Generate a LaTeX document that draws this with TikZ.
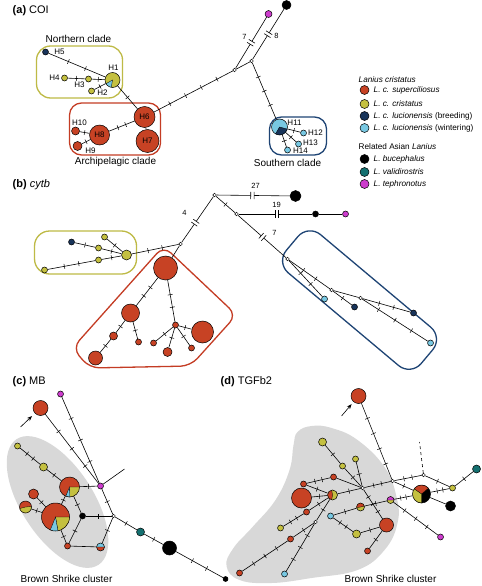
\documentclass[tikz,border=0pt]{standalone}
\usepackage{fontspec}
\setmainfont{Liberation Sans}
\usetikzlibrary{arrows.meta,decorations.markings}

\definecolor{sup}{RGB}{199,66,36}
\definecolor{cri}{RGB}{196,192,64}
\definecolor{brd}{RGB}{24,52,90}
\definecolor{win}{RGB}{120,200,226}
\definecolor{val}{RGB}{20,112,112}
\definecolor{tep}{RGB}{205,60,205}
\definecolor{boxy}{RGB}{190,186,70}
\definecolor{boxr}{RGB}{196,60,36}
\definecolor{boxb}{RGB}{30,68,116}
\definecolor{bgrey}{RGB}{216,216,216}

\newcommand{\tk}{\draw[line width=0.5pt] (0pt,-2.5pt) -- (0pt,2.5pt);}
\newcommand{\slice}[3]{\filldraw[fill=#3, draw=black, line width=0.3pt] (path picture bounding box.center) -- ++(#1:20) arc[start angle=#1, end angle=#2, radius=20] -- cycle;}

\tikzset{
  hap/.style={circle, draw=black, line width=0.5pt, inner sep=0pt, minimum size=#1},
  jn/.style={circle, draw=black, fill=white, line width=0.4pt, inner sep=0pt, minimum size=3.6},
  hl/.style={font=\fontsize{8}{9}\selectfont, inner sep=0.5pt},
  cl/.style={font=\fontsize{10}{12}\selectfont, inner sep=0pt},
  nl/.style={font=\fontsize{7.5}{9}\selectfont, inner sep=0pt},
  lg/.style={font=\fontsize{8.2}{10}\selectfont, anchor=west, inner sep=0pt},
  pl/.style={font=\fontsize{11}{13}\selectfont, anchor=west, inner sep=0pt},
  ln/.style={line width=0.6pt},
  t1/.style={postaction={decorate, decoration={markings, mark=at position 0.5 with {\tk}}}},
  t2/.style={postaction={decorate, decoration={markings, mark=at position 0.35 with {\tk}, mark=at position 0.65 with {\tk}}}},
  t3/.style={postaction={decorate, decoration={markings, mark=at position 0.25 with {\tk}, mark=at position 0.5 with {\tk}, mark=at position 0.75 with {\tk}}}},
  t4/.style={postaction={decorate, decoration={markings, mark=at position 0.2 with {\tk}, mark=at position 0.4 with {\tk}, mark=at position 0.6 with {\tk}, mark=at position 0.8 with {\tk}}}},
  brk/.style={postaction={decorate, decoration={markings, mark=at position #1 with {\fill[white] (-1.7pt,-3.6pt) rectangle (1.7pt,3.6pt); \draw[line width=0.6pt] (-1.7pt,-3.6pt) -- (-1.7pt,3.6pt) (1.7pt,-3.6pt) -- (1.7pt,3.6pt);}}}},
}

\begin{document}
\begin{tikzpicture}[x=1pt, y=-1pt]
    \fill[white] (0,0) rectangle (474,586);

    % (a) COI
    \node (pa) [pl] at (5,11) {\textbf{(a)} COI};
    \draw[boxy, line width=1.3pt, rounded corners=14] (29,46) rectangle (115,98);
    \draw[boxr, line width=1.3pt, rounded corners=12] (62,103) rectangle (153,155);
    \draw[boxb, line width=1.3pt, rounded corners=12] (262,117) rectangle (319,155);

    \node (h5) [hap=6, fill=brd] at (38,52) {};
    \node (h1) [hap=15, fill=cri, path picture={\slice{100}{150}{win}}] at (105,80) {};
    \node (h4) [hap=6, fill=cri] at (57,78) {};
    \node (h3) [hap=6, fill=cri] at (81,79) {};
    \node (h2) [hap=6, fill=cri] at (84,91) {};
    \node (h6) [hap=21, fill=sup, hl] at (137,117) {H6};
    \node (h7) [hap=23, fill=sup, hl] at (140,141) {H7};
    \node (h8) [hap=20, fill=sup, hl] at (92,135) {H8};
    \node (h10) [hap=8, fill=sup] at (68,131) {};
    \node (h9) [hap=9, fill=sup] at (70,146) {};
    \node (a1) [jn] at (227,70) {};
    \node (a2) [jn] at (244,61) {};
    \node (am) [hap=7, fill=tep] at (261,14) {};
    \node (ab) [hap=9, fill=black] at (279,5) {};
    \node (h11) [hap=16, fill=win, path picture={\slice{15}{120}{brd}}] at (272,127) {};
    \node (h12) [hap=6, fill=win] at (296,133) {};
    \node (h13) [hap=6, fill=win] at (291,144) {};
    \node (h14) [hap=6, fill=win] at (280,150) {};

    \draw[ln, t2] (h5) -- (h1);
    \draw[ln, t1] (h4) -- (h3);
    \draw[ln, t1] (h3) -- (h1);
    \draw[ln, t1] (h2) -- (h1);
    \draw[ln, t1] (h1) -- (h6);
    \draw[ln] (h6) -- (h7);
    \draw[ln, t2] (h8) -- (h6);
    \draw[ln, t1] (h10) -- (h8);
    \draw[ln, t1] (h9) -- (h8);
    \draw[ln, t4] (h6) -- (a1);
    \draw[ln] (a1) -- (a2);
    \draw[ln, brk=0.5] (a1) -- (am);
    \draw[ln, brk=0.5] (a2) -- (ab);
    \draw[ln, t3] (a2) -- (h11);
    \draw[ln, t1] (h11) -- (h12);
    \draw[ln, t1] (h11) -- (h13);
    \draw[ln, t1] (h11) -- (h14);

    \node (l7) [nl] at (237,37) {7};
    \node (l8) [nl] at (269,36) {8};
    \node (lh5) [hl] at (52,52) {H5};
    \node (lh1) [hl] at (106,68) {H1};
    \node (lh4) [hl] at (47,78) {H4};
    \node (lh3) [hl] at (72,85) {H3};
    \node (lh2) [hl] at (95,93) {H2};
    \node (lh10) [hl] at (72,123) {H10};
    \node (lh9) [hl] at (83,151) {H9};
    \node (lh11) [hl] at (287,123) {H11};
    \node (lh12) [hl] at (308,133) {H12};
    \node (lh13) [hl] at (303,143) {H13};
    \node (lh14) [hl] at (293,151) {H14};
    \node (lnc) [cl] at (71,39) {Northern clade};
    \node (lac) [cl] at (108,162) {Archipelagic clade};
    \node (lsc) [cl] at (280,163) {Southern clade};

    % legend
    \node (lgc) [lg] at (351,80) {\textit{Lanius cristatus}};
    \node (k1) [hap=9, fill=sup] at (357,90) {};
    \node (k2) [hap=9, fill=cri] at (357,104) {};
    \node (k3) [hap=9, fill=brd] at (357,116) {};
    \node (k4) [hap=9, fill=win] at (357,128) {};
    \node (lk1) [lg] at (366,90) {\textit{L. c. superciliosus}};
    \node (lk2) [lg] at (366,104) {\textit{L. c. cristatus}};
    \node (lk3) [lg] at (366,116) {\textit{L. c. lucionensis} (breeding)};
    \node (lk4) [lg] at (366,128) {\textit{L. c. lucionensis} (wintering)};
    \node (lgr) [lg] at (351,147) {Related Asian \textit{Lanius}};
    \node (k5) [hap=9, fill=black] at (357,159) {};
    \node (k6) [hap=9, fill=val] at (357,172) {};
    \node (k7) [hap=9, fill=tep] at (357,184) {};
    \node (lk5) [lg] at (366,159) {\textit{L. bucephalus}};
    \node (lk6) [lg] at (366,172) {\textit{L. validirostris}};
    \node (lk7) [lg] at (366,184) {\textit{L. tephronotus}};

    % (b) cytb
    \node (pb) [pl] at (5,185) {\textbf{(b)} \textit{cytb}};
    \draw[boxy, line width=1.3pt, rounded corners=15] (27,231) rectangle (129,274);
    \draw[boxr, line width=1.3pt, rounded corners=10] (156,246) -- (229,315) -- (183,366) -- (82,368) -- (65,348) -- cycle;
    \draw[boxb, line width=1.3pt, rounded corners=16] (300.7,224.3) -- (435.5,337.5) -- (403.3,375.8) -- (268.5,262.6) -- cycle;

    \node (by0) [hap=10, fill=cri] at (119,255) {};
    \node (bd0) [hap=6, fill=brd] at (64,242) {};
    \node (by1) [hap=6, fill=cri] at (91,248) {};
    \node (by2) [hap=6, fill=cri] at (97,237) {};
    \node (by3) [hap=6, fill=cri] at (91,260) {};
    \node (by4) [hap=6, fill=cri] at (37,270) {};
    \node (bj0) [jn] at (173,244) {};
    \node (bj1) [jn] at (207,195) {};
    \node (bj2) [jn] at (229,214) {};
    \node (bj3) [jn] at (280,259) {};
    \node (bk1) [hap=11, fill=black] at (288,196) {};
    \node (bk2) [hap=6, fill=black] at (308,214) {};
    \node (bm) [hap=6, fill=tep] at (338,214) {};
    \node (r1) [hap=24, fill=sup] at (158,268) {};
    \node (r2) [hap=18, fill=sup] at (123,313) {};
    \node (r3) [hap=8, fill=sup] at (106,336) {};
    \node (r4) [hap=14, fill=sup] at (88,358) {};
    \node (r5) [hap=6, fill=sup] at (131,342) {};
    \node (r6) [hap=6, fill=sup] at (168,325) {};
    \node (r7) [hap=22, fill=sup] at (195,332) {};
    \node (r8) [hap=6, fill=sup] at (146,343) {};
    \node (r9) [hap=9, fill=sup] at (160,352) {};
    \node (r10) [hap=6, fill=sup] at (184,348) {};
    \node (bc1) [hap=6, fill=win] at (317,299) {};
    \node (bj4) [jn] at (324,290) {};
    \node (bd1) [hap=6, fill=brd] at (347,307) {};
    \node (bj5) [jn] at (353,298) {};
    \node (bd2) [hap=6, fill=brd] at (406,313) {};
    \node (bc2) [hap=6, fill=win] at (423,343) {};

    \draw[ln, t1] (bd0) -- (by1);
    \draw[ln, t1] (by1) -- (by0);
    \draw[ln, t1] (by2) -- (by0);
    \draw[ln, t2] (by4) -- (by3);
    \draw[ln, t1] (by3) -- (by0);
    \draw[ln, t2] (by0) -- (bj0);
    \draw[ln, brk=0.43] (bj0) -- (bj1);
    \draw[ln] (bj0) -- (r1);
    \draw[ln, t2] (r1) -- (r2);
    \draw[ln, t1] (r2) -- (r3);
    \draw[ln, t1] (r3) -- (r4);
    \draw[ln, t1] (r2) -- (r5);
    \draw[ln, t2] (r1) -- (r6);
    \draw[ln, t1] (r6) -- (r7);
    \draw[ln, t1] (r6) -- (r8);
    \draw[ln, t1] (r6) -- (r9);
    \draw[ln, t1] (r6) -- (r10);
    \draw[ln, brk=0.49] (bj1) -- (bk1);
    \draw[ln, t1] (bj1) -- (bj2);
    \draw[ln, brk=0.52] (bj2) -- (bk2);
    \draw[ln] (bk2) -- (bm);
    \draw[ln, brk=0.51] (bj2) -- (bj3);
    \draw[ln, t2] (bj3) -- (bc1);
    \draw[ln, t2] (bj3) -- (bj4);
    \draw[ln, t1] (bj4) -- (bd1);
    \draw[ln] (bj4) -- (bj5);
    \draw[ln, t2] (bj5) -- (bd2);
    \draw[ln, t3] (bj5) -- (bc2);

    \node (l4) [nl] at (177,213) {4};
    \node (l27) [nl] at (248,186) {27};
    \node (l19) [nl] at (269,205) {19};
    \node (lb7) [nl] at (267,233) {7};

    % (c) MB
    \node (pc) [pl] at (5,382) {\textbf{(c)} MB};
    \fill[bgrey, rotate around={-57:(50,502)}] (50,502) ellipse [x radius=75, y radius=36];

    \node (cr0) [hap=15, fill=sup] at (33,408) {};
    \node (cm0) [hap=6, fill=tep] at (53,394) {};
    \node (cm1) [hap=6, fill=tep] at (93,486) {};
    \coordinate (cst) at (117,469);
    \node (cy1) [hap=6, fill=cri] at (10,446) {};
    \node (cy2) [hap=8, fill=cri] at (36,467) {};
    \node (cp1) [hap=20, fill=sup, path picture={\slice{0}{88}{cri}\slice{88}{112}{win}}] at (62,487) {};
    \node (cr1) [hap=10, fill=sup] at (26,494) {};
    \node (cp2) [hap=12, fill=sup, path picture={\slice{-5}{165}{cri}}] at (18,507) {};
    \node (cp3) [hap=28, fill=sup, path picture={\slice{0}{80}{cri}\slice{80}{112}{win}}] at (48,517) {};
    \node (ck1) [hap=6, fill=black] at (75,516) {};
    \node (cj1) [jn] at (106,516) {};
    \node (cr2) [hap=6, fill=sup] at (60,546) {};
    \node (cp4) [hap=8, fill=win, path picture={\slice{0}{180}{sup}}] at (93,547) {};
    \node (ct) [hap=8, fill=val] at (133,532) {};
    \node (ck2) [hap=14, fill=black] at (162,548) {};
    \node (ck3) [hap=5, fill=black] at (218,579) {};
    \coordinate (ca) at (13,427);

    \draw[ln, t3] (cr0) -- (cm1);
    \draw[ln, t3] (cm0) -- (cm1);
    \draw[ln] (cm1) -- (cst);
    \draw[ln, t2] (cy1) -- (cy2);
    \draw[ln, t1] (cy2) -- (cp1);
    \draw[ln, t1] (cp1) -- (cm1);
    \draw[ln, t1] (cp1) -- (cp3);
    \draw[ln, t1] (cp1) -- (ck1);
    \draw[ln, t1] (cr1) -- (cp3);
    \draw[ln, t1] (cp2) -- (cp3);
    \draw[ln, t1] (cp3) -- (cr2);
    \draw[ln, t1] (ck1) -- (cj1);
    \draw[ln, t1] (ck1) -- (cr2);
    \draw[ln] (cr2) -- (cp4);
    \draw[ln, t1] (cp4) -- (cj1);
    \draw[ln, t1] (cj1) -- (cm1);
    \draw[ln, t1] (cj1) -- (ct);
    \draw[ln, t1] (ct) -- (ck2);
    \draw[ln, t2] (ck2) -- (ck3);
    \draw[ln, -{Stealth[length=5pt, width=4pt]}, shorten >=4pt] (ca) -- (cr0);

    \node (lbc) [cl, anchor=base] at (59,582) {Brown Shrike cluster};

    % (d) TGFb2
    \node (pd) [pl] at (213,382) {\textbf{(d)} TGFb2};
    \fill[bgrey] plot[smooth cycle, tension=0.7] coordinates {(290,432) (304,426) (324,428) (350,440) (377,467) (389,497) (390,523) (377,550) (350,570) (304,578) (264,583) (232,580) (219,566) (226,548) (245,527) (268,500) (282,470) (286,445)};

    \node (d0) [hap=15, fill=sup] at (351,396) {};
    \node (dy1) [hap=8, fill=cri] at (315,442) {};
    \node (dy2) [hap=6, fill=cri] at (335,466) {};
    \node (dy3) [hap=6, fill=cri] at (348,459) {};
    \node (dr1) [hap=6, fill=sup] at (296,484) {};
    \node (dr2) [hap=6, fill=sup] at (326,477) {};
    \node (dj1) [jn] at (355,488) {};
    \node (dr3) [hap=20, fill=sup] at (294,498) {};
    \node (dp1) [hap=10, fill=cri, path picture={\slice{100}{260}{sup}}] at (325,495) {};
    \node (dr4) [hap=6, fill=sup] at (299,512) {};
    \node (dc1) [hap=6, fill=win] at (323,516) {};
    \node (dp2) [hap=8, fill=cri, path picture={\slice{170}{350}{sup}}] at (353,507) {};
    \node (dy4) [hap=6, fill=cri] at (273,528) {};
    \node (dj2) [jn] at (308,522) {};
    \node (dr5) [hap=6, fill=sup] at (283,539) {};
    \node (dy5) [hap=8, fill=cri] at (349,534) {};
    \node (dr6) [hap=14, fill=sup] at (379,525) {};
    \node (dr7) [hap=6, fill=sup] at (360,551) {};
    \node (dc2) [hap=6, fill=win] at (277,574) {};
    \node (dr8) [hap=6, fill=sup] at (232,573) {};
    \node (dp3) [hap=7, fill=cri, path picture={\slice{180}{360}{tep}}] at (383,500) {};
    \node (dj3) [jn] at (385,481) {};
    \node (dj4) [jn] at (416,475) {};
    \coordinate (dds) at (412,442);
    \node (dp4) [hap=18, fill=black, path picture={\slice{215}{320}{sup}\slice{90}{215}{cri}}] at (414,494) {};
    \node (dk1) [hap=10, fill=black] at (443,506) {};
    \node (dy6) [hap=6, fill=cri] at (445,488) {};
    \node (dt) [hap=8, fill=val] at (469,469) {};
    \node (dm) [hap=6, fill=tep] at (433,537) {};
    \coordinate (da) at (334,416);

    \draw[ln, t4] (d0) -- (dj3);
    \draw[ln, t2] (dj3) -- (dj4);
    \draw[ln, dashed] (dj4) -- (dds);
    \draw[ln, t1] (dj4) -- (dy6);
    \draw[ln, t2] (dp4) -- (dy6);
    \draw[ln, t1] (dy6) -- (dt);
    \draw[ln] (dp4) -- (dk1);
    \draw[ln, t1] (dj3) -- (dp4);
    \draw[ln, t2] (dp3) -- (dp4);
    \draw[ln, t3] (dp3) -- (dm);
    \draw[ln, t1] (dp2) -- (dp3);
    \draw[ln, t1] (dc1) -- (dp2);
    \draw[ln, t2] (dc1) -- (dy5);
    \draw[ln, t1] (dy5) -- (dr6);
    \draw[ln, t1] (dr6) -- (dr7);
    \draw[ln, t3] (dj1) -- (dr6);
    \draw[ln, t1] (dp1) -- (dj1);
    \draw[ln, t2] (dj1) -- (dj3);
    \draw[ln, t1] (dy1) -- (dy2);
    \draw[ln, t1] (dy2) -- (dj1);
    \draw[ln, t1] (dy3) -- (dj1);
    \draw[ln, t2] (dr1) -- (dr2);
    \draw[ln] (dr2) -- (dj1);
    \draw[ln, t1] (dr1) -- (dp1);
    \draw[ln, t1] (dr3) -- (dp1);
    \draw[ln, t1] (dp1) -- (dr4);
    \draw[ln, t2] (dr4) -- (dy4);
    \draw[ln, t1] (dp1) -- (dj2);
    \draw[ln, t1] (dj2) -- (dr5);
    \draw[ln, t3] (dr5) -- (dr8);
    \draw[ln, t3] (dj2) -- (dc2);
    \draw[ln, -{Stealth[length=5pt, width=4pt]}, shorten >=3pt] (da) -- (d0);

    \node (lbd) [cl, anchor=base] at (383,582) {Brown Shrike cluster};
\end{tikzpicture}
\end{document}
